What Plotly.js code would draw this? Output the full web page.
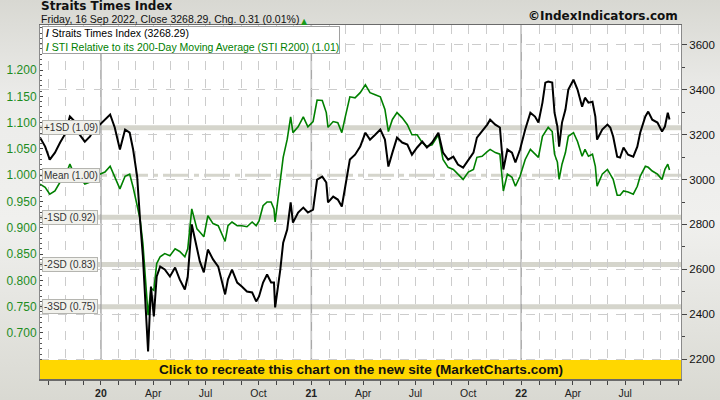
<!DOCTYPE html>
<html>
<head>
<meta charset="utf-8">
<script src="https://cdn.plot.ly/plotly-3.0.1.min.js"></script>
<style>
html,body{margin:0;padding:0;}
body{width:720px;height:400px;background:linear-gradient(to bottom,#d8d8d2 0%,#ececea 25%,#f0f0ee 55%,#d9d9d2 100%);}
#chart{width:720px;height:400px;}
</style>
</head>
<body>
<div id="chart"></div>
<script>
// ---- data ----
const dates = [
'2019-09-17','2019-09-26','2019-10-04','2019-10-13','2019-10-22','2019-10-30','2019-11-08','2019-11-17','2019-11-25','2019-12-04',
'2019-12-13','2019-12-22','2019-12-30','2020-01-08','2020-01-17','2020-01-25','2020-02-03','2020-02-12','2020-02-20','2020-02-26',
'2020-03-04','2020-03-09','2020-03-14','2020-03-19','2020-03-23','2020-03-28','2020-04-02','2020-04-07','2020-04-13','2020-04-21',
'2020-04-30','2020-05-09','2020-05-17','2020-05-26','2020-05-31','2020-06-07','2020-06-16','2020-06-21','2020-06-28','2020-07-05',
'2020-07-14','2020-07-23','2020-08-04','2020-08-09','2020-08-16','2020-08-25','2020-09-02','2020-09-11','2020-09-20','2020-09-27',
'2020-10-02','2020-10-09','2020-10-16','2020-10-23','2020-10-28','2020-10-30','2020-11-08','2020-11-13','2020-11-20','2020-11-26',
'2020-11-30','2020-12-09','2020-12-18','2020-12-26','2021-01-04','2021-01-11','2021-01-20','2021-01-27','2021-01-30','2021-02-08',
'2021-02-16','2021-02-23','2021-03-01','2021-03-09','2021-03-18','2021-03-27','2021-04-05','2021-04-13','2021-04-22','2021-05-01',
'2021-05-09','2021-05-15','2021-05-22','2021-05-30','2021-06-08','2021-06-17','2021-06-25','2021-07-04','2021-07-13','2021-07-21',
'2021-07-30','2021-08-10','2021-08-18','2021-08-27','2021-09-05','2021-09-13','2021-09-22','2021-10-01','2021-10-10','2021-10-16',
'2021-10-25','2021-11-03','2021-11-08','2021-11-17','2021-11-25','2021-12-01','2021-12-08','2021-12-16','2021-12-22','2021-12-30',
'2022-01-08','2022-01-17','2022-01-25','2022-01-31','2022-02-07','2022-02-12','2022-02-17','2022-02-24','2022-02-28','2022-03-05',
'2022-03-08','2022-03-13','2022-03-19','2022-03-24','2022-04-02','2022-04-09','2022-04-17','2022-04-22','2022-04-28','2022-05-05',
'2022-05-10','2022-05-13','2022-05-22','2022-05-31','2022-06-05','2022-06-10','2022-06-17','2022-06-22','2022-06-28','2022-07-06',
'2022-07-15','2022-07-22','2022-07-27','2022-08-05','2022-08-10','2022-08-17','2022-08-26','2022-09-03','2022-09-08','2022-09-13',
'2022-09-16'];

const sti = [
3187,3147,3089,3120,3165,3200,3281,3258,3200,3169,
3192,3232,3245,3267,3290,3232,3134,3223,3209,3134,
3013,2822,2657,2421,2234,2523,2390,2568,2612,2599,
2568,2608,2555,2510,2568,2800,2688,2635,2586,2688,
2644,2612,2488,2555,2599,2541,2523,2501,2497,2457,
2479,2541,2577,2541,2541,2430,2599,2719,2777,2898,
2808,2853,2875,2853,2866,3000,3013,2987,2898,2924,
2911,2880,2969,3089,3111,3147,3209,3178,3200,3223,
3178,3058,3120,3187,3165,3156,3111,3143,3169,3143,
3165,3209,3120,3089,3102,3067,3053,3089,3120,3187,
3214,3245,3267,3245,3232,3045,3134,3120,3076,3134,
3223,3298,3281,3254,3343,3432,3437,3432,3298,3236,
3147,3254,3312,3401,3445,3401,3325,3365,3343,3347,
3281,3178,3223,3245,3232,3192,3102,3098,3143,3111,
3102,3147,3209,3281,3303,3267,3254,3214,3236,3298,
3268.29];

const r200 = [
0.983,0.977,0.964,0.970,0.987,0.996,1.021,0.998,0.996,0.983,
0.987,0.996,1.002,1.006,1.017,0.998,0.974,0.998,1.002,0.977,
0.940,0.917,0.870,0.794,0.734,0.785,0.781,0.832,0.845,0.851,
0.847,0.860,0.855,0.845,0.860,0.936,0.898,0.892,0.883,0.923,
0.908,0.904,0.874,0.904,0.911,0.904,0.904,0.902,0.911,0.904,
0.913,0.942,0.949,0.949,0.936,0.911,0.992,1.034,1.068,1.111,
1.081,1.092,1.111,1.092,1.102,1.143,1.142,1.119,1.091,1.102,
1.100,1.081,1.111,1.149,1.147,1.157,1.172,1.157,1.153,1.149,
1.125,1.083,1.106,1.119,1.109,1.096,1.077,1.077,1.062,1.055,
1.058,1.077,1.030,1.015,1.011,1.002,0.992,1.006,1.011,1.034,
1.036,1.045,1.049,1.043,1.040,0.970,1.002,0.996,0.979,0.998,
1.030,1.049,1.040,1.034,1.074,1.083,1.091,1.083,1.040,1.025,
0.992,1.021,1.043,1.074,1.081,1.064,1.036,1.049,1.036,1.040,
1.017,0.979,1.002,1.011,1.002,0.992,0.962,0.962,0.970,0.968,
0.964,0.979,0.998,1.017,1.015,1.008,1.002,0.992,1.011,1.021,
1.01];

const meanLevel = 1.00;
const sdLevels = [1.09, 0.92, 0.83, 0.75];
const sdNames = ['+1SD', '-1SD', '-2SD', '-3SD'];
const leftTicks = [0.70,0.75,0.80,0.85,0.90,0.95,1.00,1.05,1.10,1.15,1.20];
const tickDates = ['2020-01-01','2020-04-01','2020-07-01','2020-10-01','2021-01-01','2021-04-01','2021-07-01','2021-10-01','2022-01-01','2022-04-01','2022-07-01'];
const tickLabels = ['20','Apr','Jul','Oct','21','Apr','Jul','Oct','22','Apr','Jul'];
const yearStarts = ['2020-01-01','2021-01-01','2022-01-01'];
const yearTicks = ['20','21','22'];

const lastClose = 3268.29, chg = 0.31, chgPct = 0.01, lastR = 1.01;

// ---- styling ----
const GREEN = '#008000';
const BAND = '#d5d5cc';
const GRID = '#cccccc';
const SANS = '"Liberation Sans",Arial,sans-serif';

const traces = [
  {x: dates, y: r200, type:'scatter', mode:'lines', yaxis:'y', line:{color:GREEN, width:1.6}, showlegend:false, hoverinfo:'skip'},
  {x: dates, y: sti, type:'scatter', mode:'lines', yaxis:'y2', line:{color:'#000', width:2}, showlegend:false, hoverinfo:'skip'}
];

const shapes = [];
sdLevels.forEach(l => shapes.push({type:'line', xref:'paper', x0:0, x1:1, yref:'y', y0:l, y1:l, line:{color:BAND, width:5}, layer:'below'}));
shapes.push({type:'line', xref:'paper', x0:0, x1:1, yref:'y', y0:meanLevel, y1:meanLevel, line:{color:BAND, width:3, dash:'26px,5px,5px,5px'}, layer:'below'});
yearStarts.forEach(d => shapes.push({type:'line', xref:'x', x0:d, x1:d, yref:'paper', y0:0, y1:1, line:{color:'#a8a8a8', width:1.5}, layer:'below'}));
shapes.push({type:'rect', xref:'paper', x0:0, x1:1, yref:'paper', y0:0, y1:0.054, fillcolor:'#ffd700', line:{width:0}, layer:'above'});

const annotations = [];
sdLevels.forEach((l,i) => annotations.push({
  xref:'paper', x:0.003, xanchor:'left', yref:'y', y:l, yanchor:'middle', showarrow:false,
  text: sdNames[i] + ' (' + l.toFixed(2) + ')', font:{family:SANS, size:10, color:'#333'},
  bgcolor:'#f1f1ec', bordercolor:'#b5b5b0', borderwidth:1, borderpad:1
}));
annotations.push({
  xref:'paper', x:0.003, xanchor:'left', yref:'y', y:meanLevel, yanchor:'middle', showarrow:false,
  text: 'Mean (' + meanLevel.toFixed(2) + ')', font:{family:SANS, size:10, color:'#333'},
  bgcolor:'#f1f1ec', bordercolor:'#b5b5b0', borderwidth:1, borderpad:1
});
// legend box
annotations.push({
  xref:'paper', x:0.003, xanchor:'left', yref:'paper', y:0.997, yanchor:'top', showarrow:false, align:'left',
  text: ' <b>/</b> Straits Times Index (' + lastClose.toFixed(2) + ')<br><span style="color:' + GREEN + '"> <b>/</b> STI Relative to its 200-Day Moving Average (STI R200) (' + lastR.toFixed(2) + ')</span>',
  font:{family:SANS, size:10.5, color:'#000'}, bgcolor:'#ffffff', bordercolor:'#a0a0a0', borderwidth:1, borderpad:0
});
// header
annotations.push({xref:'paper', x:-0.002, xanchor:'left', yref:'paper', y:1.054, yanchor:'middle', showarrow:false,
  text:'<b>Straits Times Index</b>', font:{family:'"DejaVu Sans",sans-serif', size:12, color:'#111'}});
annotations.push({xref:'paper', x:-0.002, xanchor:'left', yref:'paper', y:1.016, yanchor:'middle', showarrow:false,
  text:'Friday, 16 Sep 2022, Close ' + lastClose.toFixed(2) + ', Chg. ' + chg.toFixed(2) + ' (' + chgPct.toFixed(2) + '%)',
  font:{family:SANS, size:10.5, color:'#111'}});
annotations.push({xref:'paper', x:0.413, xanchor:'center', yref:'paper', y:1.009, yanchor:'middle', showarrow:false,
  text:'▲', font:{family:'"DejaVu Sans",sans-serif', size:8, color:'#1a9a1a'}});
annotations.push({xref:'paper', x:0.999, xanchor:'right', yref:'paper', y:1.026, yanchor:'middle', showarrow:false,
  text:'<b>©IndexIndicators.com</b>', font:{family:'"DejaVu Sans",sans-serif', size:12, color:'#111'}});
// yellow banner text
annotations.push({xref:'paper', x:0.5, xanchor:'center', yref:'paper', y:0.027, yanchor:'middle', showarrow:false,
  text:'<b>Click to recreate this chart on the new site (MarketCharts.com)</b>',
  font:{family:SANS, size:13.6, color:'#111'}});

const layout = {
  width:720, height:400,
  margin:{l:40, r:39, t:25, b:21},
  paper_bgcolor:'rgba(0,0,0,0)', plot_bgcolor:'#ffffff',
  showlegend:false,
  xaxis:{
    type:'date', range:['2019-09-17','2022-10-06'],
    tickmode:'array', tickvals:tickDates,
    ticktext: tickLabels.map(t => yearTicks.includes(t) ? '<b>'+t+'</b>' : t),
    ticks:'outside', ticklen:4, tickcolor:'#444',
    showgrid:true, gridcolor:GRID, griddash:'dash', gridwidth:1,
    minor:{dtick:'M1', tick0:'2019-01-01', ticks:'outside', ticklen:4, tickcolor:'#444', showgrid:true, gridcolor:GRID, griddash:'dash'},
    showline:true, mirror:true, linecolor:'#6a6a6a', linewidth:1.5,
    tickfont:{family:SANS, size:10.5, color:'#222'}, zeroline:false
  },
  yaxis:{
    range:[0.6125, 1.2856], tickmode:'array', tickvals:leftTicks,
    ticktext: leftTicks.map(v => v.toFixed(3)),
    ticks:'inside', ticklen:3, tickcolor:'#444',
    minor:{dtick:0.01, tick0:0, ticks:'inside', ticklen:2, tickcolor:'#555'},
    showgrid:false, zeroline:false,
    showline:true, mirror:true, linecolor:'#8a8a8a', linewidth:1,
    tickfont:{family:SANS, size:12, color:'#1e8c1e'}
  },
  yaxis2:{
    overlaying:'y', side:'right', range:[2111, 3689],
    dtick:200, tick0:0, ticks:'outside', ticklen:5, tickcolor:'#444',
    minor:{dtick:100, tick0:0, ticks:'outside', ticklen:3, tickcolor:'#444'},
    showgrid:true, gridcolor:GRID, griddash:'dash', zeroline:false,
    tickfont:{family:SANS, size:11.5, color:'#111'}
  },
  shapes:shapes, annotations:annotations
};

Plotly.newPlot('chart', traces, layout, {staticPlot:true, displayModeBar:false});
</script>
</body>
</html>
